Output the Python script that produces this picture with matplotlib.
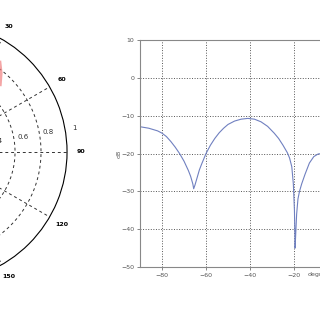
"""Cropped two-panel figure: polar pattern (left) and dB response vs angle (right)."""

import matplotlib
matplotlib.use("Agg")
import matplotlib.pyplot as plt
import numpy as np

# right panel: response in dB vs angle (degree)
angle_deg = [-90, -86, -82, -80, -78, -76, -74, -72, -70, -68, -67, -66, -65.6,
             -65, -64, -63, -62, -60, -58, -56, -54, -52, -50, -47, -44, -41,
             -38, -35, -32, -29, -27, -25, -23, -22, -21, -20.3, -19.8, -19.5,
             -19.2, -18.8, -18.2, -17.5, -16.5, -15, -13, -11, -9, -7, -5]
gain_db = [-12.9, -13.3, -14.0, -14.6, -15.5, -16.8, -18.3, -20.0, -22.0, -24.5,
           -26.0, -28.0, -29.3, -28.3, -26.3, -24.3, -22.8, -20.0, -17.8, -16.0,
           -14.5, -13.3, -12.3, -11.4, -10.9, -10.7, -10.9, -11.6, -12.8, -14.6,
           -16.0, -17.8, -19.8, -21.2, -23.5, -28.0, -35.0, -45.0, -41.0, -36.0,
           -32.0, -30.0, -28.0, -25.5, -22.5, -20.8, -20.1, -20.0, -20.4]
x_ticks = [-80, -60, -40, -20]
y_ticks = [10, 0, -10, -20, -30, -40, -50]

# left panel: polar grid labels and the visible piece of the red pattern
spoke_deg = [0, 30, 60, 90, 120, 150, 180, 210, 240, 270, 300, 330]
theta_labels = [30, 60, 90, 120, 150]
r_rings = [0.2, 0.4, 0.6, 0.8]
r_label_vals = [0.4, 0.6, 0.8, 1.0]
r_labels = ["0.4", "0.6", "0.8", "1"]
red_theta_deg = [35, 39, 43]
red_r = [0.84, 0.78, 0.71]

fig = plt.figure(figsize=(3.2, 3.2), dpi=100)

# ----- polar panel (mostly off canvas on the left) -----
pax = fig.add_axes([-0.603, 0.119, 0.8125, 0.8125], projection="polar")
pax.set_theta_zero_location("N")
pax.set_theta_direction(-1)
pax.set_ylim(0, 1)
pax.grid(False)
pax.set_xticks([])
pax.set_yticks([])
pax.spines["polar"].set_color("black")
pax.spines["polar"].set_linewidth(0.8)
t = np.linspace(0, 2 * np.pi, 361)
for r in r_rings:
    pax.plot(t, np.full_like(t, r), color="#333333", lw=0.7, ls=(0, (3, 3)))
for th in spoke_deg:
    pax.plot([0, np.deg2rad(th)], [0, 1], color="#333333", lw=0.7, ls=(0, (3, 3)))
for th in theta_labels:
    pax.text(np.deg2rad(th), 1.11, str(th), fontsize=4.5, ha="center",
             va="center", color="black", fontweight="bold")
for r, lab in zip(r_label_vals, r_labels):
    pax.text(np.deg2rad(80), r + 0.07, lab, fontsize=5, ha="center",
             va="center", color="#333333")
pax.plot(np.deg2rad(red_theta_deg), red_r, color="#f08080", lw=2.5, alpha=0.7)

# ----- rectangular panel (extends past the right edge) -----
ax = fig.add_axes([0.4375, 0.1656, 1.2375, 0.709])
ax.plot(angle_deg, gain_db, color="#7080c0", lw=0.8)
ax.set_xlim(-90, 90)
ax.set_ylim(-50, 10)
ax.set_xticks(x_ticks)
ax.set_yticks(y_ticks)
ax.tick_params(labelsize=4.5, colors="#555555", length=2, width=0.5, pad=2)
ax.grid(True, color="#555555", ls=":", lw=0.7)
for s in ax.spines.values():
    s.set_color("#888888")
    s.set_linewidth(0.8)
ax.set_ylabel("dB", fontsize=4.5, color="#555555", labelpad=0)
ax.text(-14, -0.02, "degree", transform=ax.get_xaxis_transform(),
        fontsize=4.5, color="#555555", ha="left", va="top")

fig.savefig("out.png", dpi=100)
